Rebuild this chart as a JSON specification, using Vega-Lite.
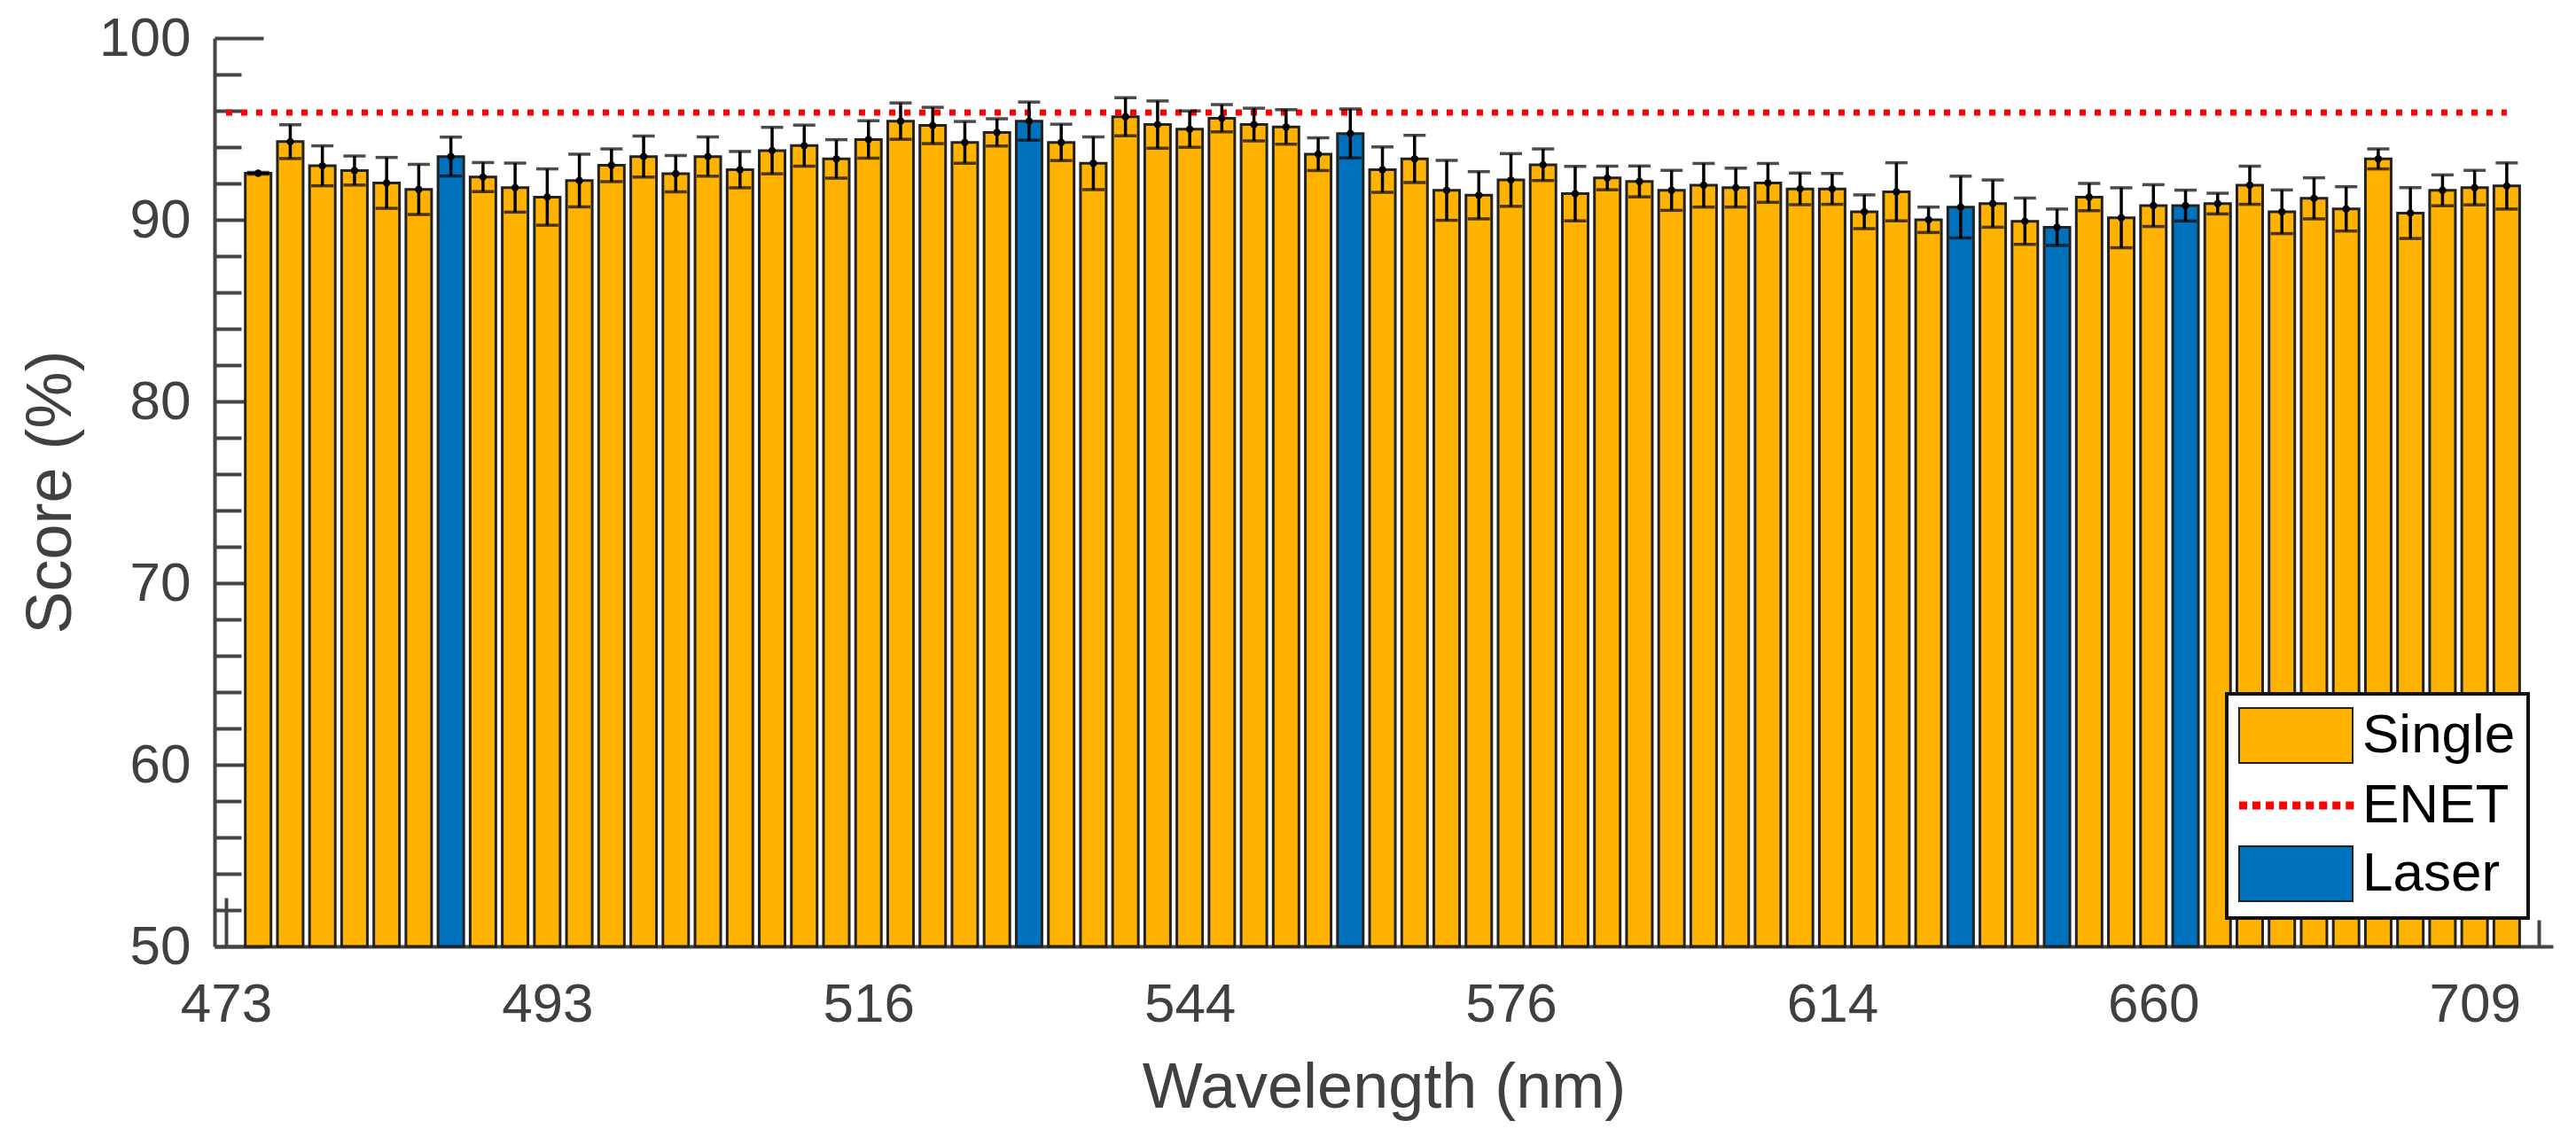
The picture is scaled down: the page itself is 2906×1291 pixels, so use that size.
{
  "$schema": "https://vega.github.io/schema/vega-lite/v6.json",
  "width": 2638,
  "height": 1025,
  "autosize": {"type": "none"},
  "padding": {"left": 242, "top": 43, "right": 26, "bottom": 223},
  "background": "white",
  "config": {
    "view": {"stroke": null},
    "font": "Liberation Sans",
    "axis": {"grid": false},
    "legend": {"strokeWidth": 4}
  },
  "datasets": {
    "bands": [
      {"idx": 1, "score": 92.56, "err": 0.05, "type": "Single"},
      {"idx": 2, "score": 94.3, "err": 0.93, "type": "Single"},
      {"idx": 3, "score": 92.97, "err": 1.1, "type": "Single"},
      {"idx": 4, "score": 92.71, "err": 0.8, "type": "Single"},
      {"idx": 5, "score": 92.03, "err": 1.4, "type": "Single"},
      {"idx": 6, "score": 91.67, "err": 1.38, "type": "Single"},
      {"idx": 7, "score": 93.48, "err": 1.07, "type": "Laser"},
      {"idx": 8, "score": 92.35, "err": 0.8, "type": "Single"},
      {"idx": 9, "score": 91.77, "err": 1.35, "type": "Single"},
      {"idx": 10, "score": 91.25, "err": 1.55, "type": "Single"},
      {"idx": 11, "score": 92.16, "err": 1.45, "type": "Single"},
      {"idx": 12, "score": 93.0, "err": 0.9, "type": "Single"},
      {"idx": 13, "score": 93.48, "err": 1.13, "type": "Single"},
      {"idx": 14, "score": 92.54, "err": 1.0, "type": "Single"},
      {"idx": 15, "score": 93.48, "err": 1.08, "type": "Single"},
      {"idx": 16, "score": 92.76, "err": 1.0, "type": "Single"},
      {"idx": 17, "score": 93.81, "err": 1.28, "type": "Single"},
      {"idx": 18, "score": 94.08, "err": 1.13, "type": "Single"},
      {"idx": 19, "score": 93.35, "err": 1.06, "type": "Single"},
      {"idx": 20, "score": 94.42, "err": 1.03, "type": "Single"},
      {"idx": 21, "score": 95.43, "err": 1.0, "type": "Single"},
      {"idx": 22, "score": 95.19, "err": 1.0, "type": "Single"},
      {"idx": 23, "score": 94.26, "err": 1.15, "type": "Single"},
      {"idx": 24, "score": 94.81, "err": 0.75, "type": "Single"},
      {"idx": 25, "score": 95.43, "err": 1.05, "type": "Laser"},
      {"idx": 26, "score": 94.26, "err": 1.0, "type": "Single"},
      {"idx": 27, "score": 93.11, "err": 1.45, "type": "Single"},
      {"idx": 28, "score": 95.67, "err": 1.05, "type": "Single"},
      {"idx": 29, "score": 95.24, "err": 1.3, "type": "Single"},
      {"idx": 30, "score": 94.99, "err": 1.0, "type": "Single"},
      {"idx": 31, "score": 95.59, "err": 0.75, "type": "Single"},
      {"idx": 32, "score": 95.24, "err": 0.9, "type": "Single"},
      {"idx": 33, "score": 95.11, "err": 0.95, "type": "Single"},
      {"idx": 34, "score": 93.61, "err": 0.9, "type": "Single"},
      {"idx": 35, "score": 94.75, "err": 1.35, "type": "Laser"},
      {"idx": 36, "score": 92.76, "err": 1.25, "type": "Single"},
      {"idx": 37, "score": 93.35, "err": 1.3, "type": "Single"},
      {"idx": 38, "score": 91.62, "err": 1.65, "type": "Single"},
      {"idx": 39, "score": 91.35, "err": 1.3, "type": "Single"},
      {"idx": 40, "score": 92.19, "err": 1.45, "type": "Single"},
      {"idx": 41, "score": 93.03, "err": 0.87, "type": "Single"},
      {"idx": 42, "score": 91.44, "err": 1.5, "type": "Single"},
      {"idx": 43, "score": 92.3, "err": 0.65, "type": "Single"},
      {"idx": 44, "score": 92.11, "err": 0.85, "type": "Single"},
      {"idx": 45, "score": 91.62, "err": 1.1, "type": "Single"},
      {"idx": 46, "score": 91.9, "err": 1.2, "type": "Single"},
      {"idx": 47, "score": 91.77, "err": 1.07, "type": "Single"},
      {"idx": 48, "score": 92.03, "err": 1.07, "type": "Single"},
      {"idx": 49, "score": 91.7, "err": 0.87, "type": "Single"},
      {"idx": 50, "score": 91.7, "err": 0.85, "type": "Single"},
      {"idx": 51, "score": 90.44, "err": 0.93, "type": "Single"},
      {"idx": 52, "score": 91.54, "err": 1.6, "type": "Single"},
      {"idx": 53, "score": 90.0, "err": 0.7, "type": "Single"},
      {"idx": 54, "score": 90.7, "err": 1.7, "type": "Laser"},
      {"idx": 55, "score": 90.89, "err": 1.3, "type": "Single"},
      {"idx": 56, "score": 89.92, "err": 1.27, "type": "Single"},
      {"idx": 57, "score": 89.59, "err": 1.0, "type": "Laser"},
      {"idx": 58, "score": 91.25, "err": 0.75, "type": "Single"},
      {"idx": 59, "score": 90.11, "err": 1.65, "type": "Single"},
      {"idx": 60, "score": 90.78, "err": 1.15, "type": "Single"},
      {"idx": 61, "score": 90.78, "err": 0.85, "type": "Laser"},
      {"idx": 62, "score": 90.89, "err": 0.57, "type": "Single"},
      {"idx": 63, "score": 91.9, "err": 1.05, "type": "Single"},
      {"idx": 64, "score": 90.44, "err": 1.2, "type": "Single"},
      {"idx": 65, "score": 91.18, "err": 1.13, "type": "Single"},
      {"idx": 66, "score": 90.6, "err": 1.22, "type": "Single"},
      {"idx": 67, "score": 93.35, "err": 0.55, "type": "Single"},
      {"idx": 68, "score": 90.37, "err": 1.4, "type": "Single"},
      {"idx": 69, "score": 91.62, "err": 0.85, "type": "Single"},
      {"idx": 70, "score": 91.77, "err": 0.95, "type": "Single"},
      {"idx": 71, "score": 91.86, "err": 1.27, "type": "Single"}
    ],
    "enet": [{"idx": 0, "idx2": 71, "score": 95.9}]
  },
  "encoding": {
    "x": {
      "field": "idx",
      "type": "quantitative",
      "scale": {"domain": [-0.22, 72.3], "nice": false, "zero": false},
      "axis": {
        "title": "Wavelength (nm)",
        "values": [0, 2, 4, 6, 8, 10, 12, 14, 16, 18, 20, 22, 24, 26, 28, 30, 32, 34, 36, 38, 40, 42, 44, 46, 48, 50, 52, 54, 56, 58, 60, 62, 64, 66, 68, 70, 72],
        "labelExpr": "datum.value === 0 ? '473' : datum.value === 10 ? '493' : datum.value === 20 ? '516' : datum.value === 30 ? '544' : datum.value === 40 ? '576' : datum.value === 50 ? '614' : datum.value === 60 ? '660' : datum.value === 70 ? '709' : ''",
        "tickSize": {"condition": {"test": "datum.value % 10 === 0", "value": -55}, "value": -30},
        "tickWidth": 4,
        "tickColor": "#444444",
        "domainColor": "#444444",
        "domainWidth": 4,
        "labelFontSize": 62,
        "labelColor": "#404040",
        "labelPadding": 90,
        "labelAngle": 0,
        "labelFlush": false,
        "labelOverlap": false,
        "titleFontSize": 72,
        "titleFontWeight": "normal",
        "titleColor": "#404040",
        "titleY": 181,
        "titleBaseline": "alphabetic"
      }
    },
    "y": {
      "field": "score",
      "type": "quantitative",
      "scale": {"domain": [50, 100], "nice": false, "zero": false},
      "axis": {
        "title": "Score (%)",
        "values": [50, 52, 54, 56, 58, 60, 62, 64, 66, 68, 70, 72, 74, 76, 78, 80, 82, 84, 86, 88, 90, 92, 94, 96, 98, 100],
        "labelExpr": "datum.value % 10 === 0 ? datum.label : ''",
        "tickSize": {"condition": {"test": "datum.value % 10 === 0", "value": -55}, "value": -30},
        "tickWidth": 4,
        "tickColor": "#444444",
        "domainColor": "#444444",
        "domainWidth": 4,
        "labelFontSize": 62,
        "labelColor": "#404040",
        "labelPadding": 82,
        "labelOverlap": false,
        "labelFlush": false,
        "titleFontSize": 72,
        "titleFontWeight": "normal",
        "titleColor": "#404040",
        "titleAngle": 270,
        "titleX": -185,
        "titleY": 512,
        "titleBaseline": "middle",
        "titleAlign": "center"
      }
    }
  },
  "layer": [
    {
      "data": {"name": "bands"},
      "mark": {"type": "bar", "size": 29, "strokeWidth": 3},
      "encoding": {
        "y2": {"datum": 50},
        "color": {
          "field": "type",
          "type": "nominal",
          "scale": {"domain": ["Single", "ENET", "Laser"], "range": ["#FFB300", "#FF0000", "#0072BD"]},
          "legend": {
            "title": null,
            "orient": "none",
            "legendX": 2270,
            "legendY": 740,
            "direction": "vertical",
            "labelFontSize": 62,
            "labelFont": "Liberation Sans",
            "labelColor": "#000000",
            "labelLimit": 0,
            "padding": 14,
            "rowPadding": 10,
            "symbolSize": 4096,
            "symbolStrokeWidth": 2,
            "symbolOffset": 31,
            "labelOffset": 42,
            "symbolOpacity": 1,
            "symbolType": "M-2,-0.97H2V0.97H-2Z",
            "fillColor": "white",
            "strokeColor": "#111111"
          }
        },
        "stroke": {
          "field": "type",
          "type": "nominal",
          "scale": {"domain": ["Single", "ENET", "Laser"], "range": ["#222222", "#FF0000", "#222222"]}
        }
      }
    },
    {
      "data": {"name": "bands"},
      "mark": {"type": "point", "size": 0, "strokeWidth": 0, "filled": true},
      "encoding": {
        "shape": {
          "field": "type",
          "type": "nominal",
          "scale": {
            "domain": ["Single", "ENET", "Laser"],
            "range": [
              "M-2,-0.97H2V0.97H-2Z",
              "M-1.97,-0.11h0.22v0.22h-0.22Z M-1.5,-0.11h0.22v0.22h-0.22Z M-1.03,-0.11h0.22v0.22h-0.22Z M-0.56,-0.11h0.22v0.22h-0.22Z M-0.09,-0.11h0.22v0.22h-0.22Z M0.38,-0.11h0.22v0.22h-0.22Z M0.85,-0.11h0.22v0.22h-0.22Z M1.32,-0.11h0.22v0.22h-0.22Z M1.79,-0.11h0.22v0.22h-0.22Z",
              "M-2,-0.97H2V0.97H-2Z"
            ]
          }
        }
      }
    },
    {
      "data": {"name": "enet"},
      "mark": {"type": "rule", "color": "#FF0000", "strokeWidth": 7, "strokeDash": [7, 10], "strokeCap": "butt"},
      "encoding": {
        "x2": {"field": "idx2"}
      }
    },
    {
      "data": {"name": "bands"},
      "mark": {
        "type": "errorbar",
        "color": "black",
        "ticks": {"size": 25, "thickness": 3.5, "color": "black"},
        "rule": {"strokeWidth": 3.5, "color": "black"}
      },
      "encoding": {
        "yError": {"field": "err"}
      }
    },
    {
      "data": {"name": "bands"},
      "mark": {"type": "point", "filled": true, "size": 70, "color": "black", "opacity": 1},
      "encoding": {}
    }
  ]
}
